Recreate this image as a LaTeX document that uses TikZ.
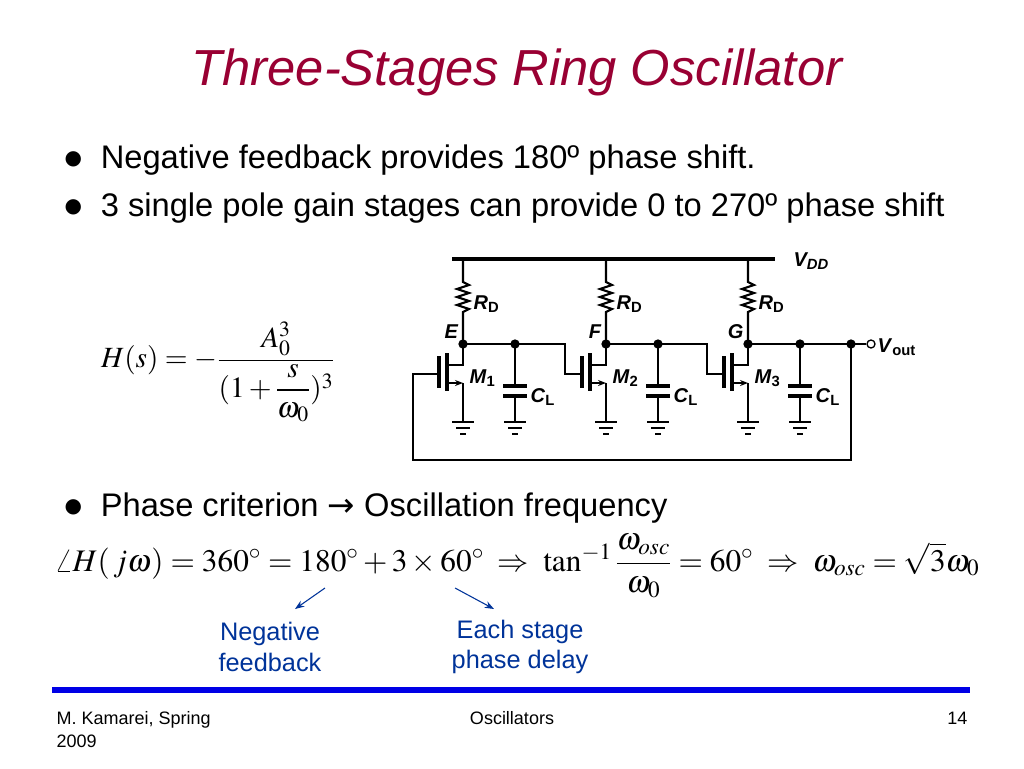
\documentclass[tikz,border=0pt]{standalone}
\usepackage{amsmath}
\usepackage{mathptmx}
\usepackage{fontspec}
\setmainfont{Liberation Sans}
\newfontfamily\symfont{DejaVu Sans}
\usetikzlibrary{arrows.meta,calc}
\definecolor{titlered}{RGB}{153,0,51}
\definecolor{noteblue}{RGB}{0,51,153}
\definecolor{rulerblue}{RGB}{0,0,230}
\tikzset{
  wire/.style={line width=1.6pt},
  chan/.style={line width=2.6pt},
  dot/.style={circle,fill,inner sep=0pt,minimum size=7pt},
  lbl/.style={font=\fontsize{15}{17}\selectfont\bfseries,inner sep=1pt},
  bullet/.style={anchor=west,font=\fontsize{24.5}{28}\selectfont},
  note/.style={text=noteblue,align=center,font=\fontsize{19}{23}\selectfont},
  notearrow/.style={-{Stealth[length=7pt]},noteblue,line width=0.8pt},
}
\newcommand{\gnd}[1]{%
  \draw[line width=2.2pt] ($(#1)+(-11,0)$) -- ($(#1)+(11,0)$);
  \draw[line width=2.2pt] ($(#1)+(-7,6)$) -- ($(#1)+(7,6)$);
  \draw[line width=2.2pt] ($(#1)+(-3,12)$) -- ($(#1)+(3,12)$);}
\newcommand{\lab}[2]{\textit{#1}\textsubscript{#2}}
\newcommand{\bul}{\raisebox{3pt}{\symfont\fontsize{15}{15}\selectfont ●}\hspace{14pt}}
\begin{document}
\begin{tikzpicture}[x=0.75pt,y=-0.75pt]
\useasboundingbox (0,0) rectangle (1024,768);

% Title and bullets
\node[text=titlered,font=\fontsize{38}{44}\selectfont\itshape] (title) at (517,72) {Three-Stages Ring Oscillator};
\node[bullet] (b1) at (60,160) {\bul Negative feedback provides 180º phase shift.};
\node[bullet] (b2) at (60,208) {\bul 3 single pole gain stages can provide 0 to 270º phase shift};
\node[bullet] (b3) at (60,508) {\bul Phase criterion {\symfont →} Oscillation frequency};

% Transfer function
\node[font=\fontsize{22}{26}\selectfont] (hs) at (218,372) {$H(s)=-\dfrac{A_0^3}{(1+\dfrac{s}{\omega_0})^3}$};

% Supply rail
\coordinate (vddl) at (452,259);
\coordinate (vddr) at (775,259);
\draw[line width=2.4pt] (vddl) -- (vddr);
\node[lbl,anchor=west] (vdd) at (792,261) {\textit{V\textsubscript{DD}}};

% Stages
\foreach \d/\n/\m in {463/E/1,606/F/2,748/G/3}{
  \coordinate (top\m) at (\d,259);
  \coordinate (\n) at (\d,344);
  \draw[wire] (top\m) -- (\d,282) -- (\d+6,285) -- (\d-6,289) -- (\d+6,293) -- (\d-6,297) -- (\d+6,301) -- (\d-6,305) -- (\d+6,309) -- (\d,312) -- (\n);
  \node[lbl,anchor=west] (rd\m) at (\d+9,304) {\lab{R}{D}};
  \node[dot] at (\n) {};
  \node[lbl,anchor=south east] (lab\n) at (\d-3,340) {\textit{\n}};
  % transistor
  \draw[wire] (\n) -- (\d,365) -- (\d-16,365);
  \draw[chan] (\d-16,353) -- (\d-16,391);
  \draw[chan] (\d-24,356) -- (\d-24,388);
  \draw[wire,-{Stealth[length=6pt]}] (\d-16,383) -- (\d,383);
  \draw[wire] (\d,383) -- (\d,422);
  \coordinate (g\m) at (\d-24,374);
  \node[lbl,anchor=west] (m\m) at (\d+5,378) {\lab{M}{\m}};
  \gnd{\d,422}
  % load capacitor
  \coordinate (c\m) at (\d+52,344);
  \node[dot] at (c\m) {};
  \draw[wire] (c\m) -- (\d+52,386);
  \draw[line width=2.4pt] (\d+40,386) -- (\d+64,386);
  \draw[line width=2.4pt] (\d+40,396) -- (\d+64,396);
  \draw[wire] (\d+52,396) -- (\d+52,422);
  \node[lbl,anchor=west] (cl\m) at (\d+66,397) {\lab{C}{L}};
  \gnd{\d+52,422}
}

% Interstage wiring
\draw[wire] (E) -- (565,344) -- (565,374) -- (g2);
\draw[wire] (F) -- (707,344) -- (707,374) -- (g3);
\coordinate (out) at (851,344);
\node[circle,draw,line width=1pt,inner sep=0pt,minimum size=6pt] (vo) at (871,344) {};
\draw[wire] (G) -- (out) -- (vo.west);
\node[dot] at (out) {};
\node[lbl,anchor=west] (vout) at (876,347) {\lab{V}{out}};
\coordinate (fbl) at (413,460);
\draw[wire] (g1) -- (413,374) -- (fbl) -- (851,460) -- (out);

% Phase equation
\node[anchor=west,font=\fontsize{23.5}{28}\selectfont] (eq) at (50,566)
  {$\angle H(\,j\omega)=360^\circ=180^\circ+3\times60^\circ\;\Rightarrow\;\tan^{-1}\dfrac{\omega_{osc}}{\omega_0}=60^\circ\;\Rightarrow\;\omega_{osc}=\sqrt{3}\omega_0$};

% Notes
\node[note] (nf) at (270,647) {Negative\\feedback};
\node[note] (es) at (520,647) {Each stage\\phase delay};
\coordinate (a1) at (325,588);
\coordinate (a1e) at (295,609);
\coordinate (a2) at (455,588);
\coordinate (a2e) at (494,609);
\draw[notearrow] (a1) -- (a1e);
\draw[notearrow] (a2) -- (a2e);

% Footer
\draw[rulerblue,line width=4.5pt] (52,690) -- (970,690);
\node[anchor=north west,align=left,font=\fontsize{13.5}{17}\selectfont] (auth) at (52,707) {M. Kamarei, Spring\\2009};
\node[anchor=north,font=\fontsize{13.5}{17}\selectfont] (topic) at (512,707) {Oscillators};
\node[anchor=north east,font=\fontsize{13.5}{17}\selectfont] (page) at (972,707) {14};
\end{tikzpicture}
\end{document}
